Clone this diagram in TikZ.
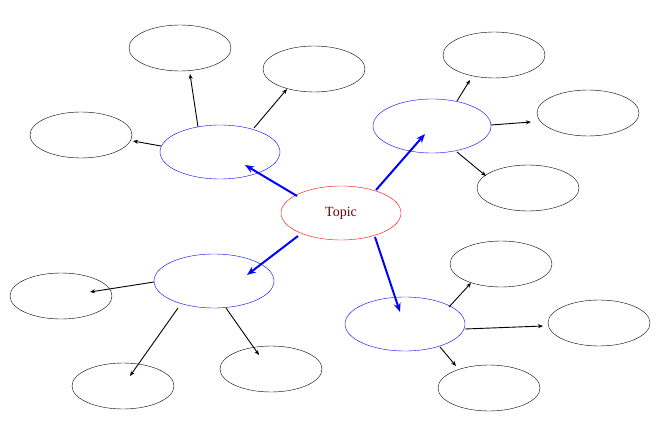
\documentclass[tikz,border=0pt]{standalone}
\usepackage{fontspec}
\setmainfont{Liberation Serif}
\usetikzlibrary{shapes.geometric,arrows.meta,calc}
\begin{document}
\begin{tikzpicture}[x=1pt,y=-1pt,
  ell/.style={ellipse,draw,inner sep=0pt,minimum width=102pt,minimum height=46pt},
  sub/.style={ellipse,draw=blue,inner sep=0pt,minimum width=120pt,minimum height=54pt},
  top/.style={ellipse,draw=red,inner sep=0pt,minimum width=120pt,minimum height=54pt,text=red!45!black,font=\fontsize{14}{16}\selectfont},
  ka/.style={-{Stealth[length=5pt,width=4pt]},line width=0.9pt},
  ba/.style={-{Stealth[length=9pt,width=7pt]},line width=2pt,draw=blue}]
\useasboundingbox (0,0) rectangle (668,438);
\node[top] (T) at (341,213) {Topic};
\node[sub] (B1) at (220,152) {};
\node[sub,minimum width=118pt] (B2) at (432,126) {};
\node[sub] (B3) at (214,281) {};
\node[sub] (B4) at (405,324) {};
\node[ell] (K1) at (180,48) {};
\node[ell] (K2) at (314,69) {};
\node[ell] (K3) at (81,135) {};
\node[ell] (K4) at (494,55) {};
\node[ell] (K5) at (588,113) {};
\node[ell] (K6) at (528,188) {};
\node[ell] (K7) at (61,296) {};
\node[ell] (K8) at (123,386) {};
\node[ell] (K9) at (271,369) {};
\node[ell] (K10) at (501,264) {};
\node[ell] (K11) at (599,323) {};
\node[ell] (K12) at (489,388) {};
\draw[ka] ($(B1)+(-22,-25)$) -- ($(K1)+(10,26)$);
\draw[ka] ($(B1)+(34,-24)$) -- ($(K2)+(-27,20)$);
\draw[ka] ($(B1)+(-59,-6)$) -- ($(K3)+(52,6)$);
\draw[ka] ($(B2)+(25,-25)$) -- ($(K4)+(-24,25)$);
\draw[ka] ($(B2)+(59,-1)$) -- ($(K5)+(-57,9)$);
\draw[ka] ($(B2)+(25,26)$) -- ($(K6)+(-42,-12)$);
\draw[ka] ($(B3)+(-60,1)$) -- ($(K7)+(29,-4)$);
\draw[ka] ($(B3)+(-36,27)$) -- ($(K8)+(7,-10)$);
\draw[ka] ($(B3)+(12,27)$) -- ($(K9)+(-12,-14)$);
\draw[ka] ($(B4)+(44,-17)$) -- ($(K10)+(-30,19)$);
\draw[ka] ($(B4)+(60,5)$) -- ($(K11)+(-56,3)$);
\draw[ka] ($(B4)+(35,23)$) -- ($(K12)+(-33,-22)$);
\draw[ba] ($(T)+(-44,-17)$) -- ($(B1)+(25,13)$);
\draw[ba] ($(T)+(35,-23)$) -- ($(B2)+(-7,8)$);
\draw[ba] ($(T)+(-43,23)$) -- ($(B3)+(33,-6)$);
\draw[ba] ($(T)+(34,24)$) -- ($(B4)+(-5,-12)$);
\end{tikzpicture}
\end{document}
